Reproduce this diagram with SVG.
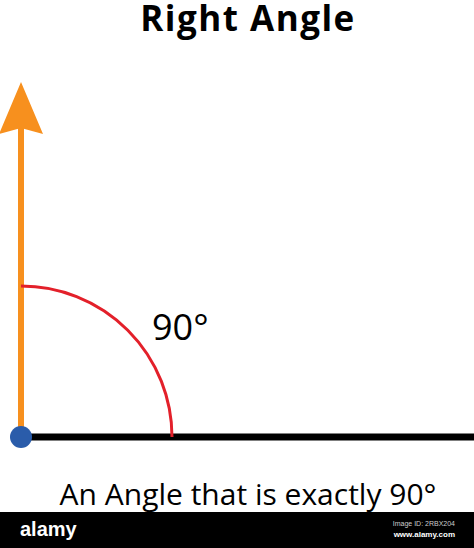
<svg xmlns="http://www.w3.org/2000/svg" width="474" height="548" viewBox="0 0 474 548">
<style>
.t{font-family:"Open Sans","Liberation Sans",sans-serif;fill:#000}
</style>
<rect width="474" height="548" fill="#fff"/>
<text class="t" x="248" y="31" font-size="35" font-weight="bold" text-anchor="middle" letter-spacing="1.5">Right Angle</text>
<g id="connectors">
<line x1="21" y1="437" x2="474" y2="437" stroke="#000" stroke-width="7"/>
<line x1="21" y1="437" x2="21" y2="128" stroke="#F7901E" stroke-width="6"/>
<polygon points="21,82 43,134 21,128 -1,134" fill="#F7901E"/>
<path d="M21,286 A151,151 0 0 1 172,437" fill="none" stroke="#E3202A" stroke-width="3"/>
</g>
<g id="vertex"><circle cx="21" cy="437" r="11" fill="#2A5CAA"/></g>
<text class="t" x="152" y="340" font-size="36">90°</text>
<text class="t" x="248" y="505" font-size="30" text-anchor="middle">An Angle that is exactly 90°</text>
<rect x="0" y="512" width="474" height="36" fill="#000"/>
<text x="20" y="536" font-family="Liberation Sans,sans-serif" font-size="20" font-weight="bold" fill="#fff">alamy</text>
<text x="455" y="526" font-family="Liberation Sans,sans-serif" font-size="7" fill="#ccc" text-anchor="end">Image ID: 2RBX204</text>
<text x="455" y="537" font-family="Liberation Sans,sans-serif" font-size="8" font-weight="bold" fill="#fff" text-anchor="end">www.alamy.com</text>
</svg>
